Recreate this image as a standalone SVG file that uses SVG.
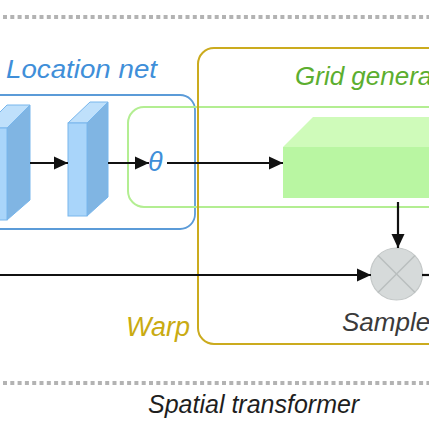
<svg xmlns="http://www.w3.org/2000/svg" width="429" height="429" viewBox="0 0 429 429">
<defs>
<style>
.lbl{font-family:"Liberation Sans",Arial,sans-serif;font-style:italic}
.conn{stroke:#111;stroke-width:2.2;fill:none}
.dots{stroke:#b3b3b3;stroke-width:4;stroke-dasharray:4 3.3;fill:none}
.front{fill:#a9d5fa;stroke:#78b6ec;stroke-width:1}
.side{fill:#80b5e3;stroke:#78b6ec;stroke-width:1}
.top{fill:#bfe0fb;stroke:#78b6ec;stroke-width:1}
</style>
<marker id="ah" viewBox="0 0 14 14" refX="14" refY="7" markerWidth="14" markerHeight="14" markerUnits="userSpaceOnUse" orient="auto">
<path d="M0,0.5 L14,7 L0,13.5 Z" fill="#111"/>
</marker>
</defs>
<rect width="429" height="429" fill="#fff"/>
<line class="dots" x1="3" y1="17" x2="429" y2="17"/>
<line class="dots" x1="3" y1="383" x2="429" y2="383"/>

<g id="location-net">
<rect x="-20" y="95" width="215" height="134" rx="15" fill="none" stroke="#5b9bd8" stroke-width="1.8"/>
<text class="lbl" x="6" y="78" font-size="26" fill="#3f8fd9" textLength="151" lengthAdjust="spacingAndGlyphs">Location net</text>
</g>

<g id="block1">
<polygon class="top" points="-16,128 7,105 30,105 7,128"/>
<polygon class="side" points="7,128 30,105 30,200 7,220"/>
<rect class="front" x="-10" y="128" width="17" height="92"/>
</g>
<g id="block2">
<polygon class="top" points="68,123 90,102 108,102 87,123"/>
<polygon class="side" points="87,123 108,102 108,197 87,216"/>
<rect class="front" x="68" y="123" width="19" height="93"/>
</g>

<g id="grid-generator">
<rect x="128" y="107" width="330" height="100" rx="16" fill="none" stroke="#b3ee92" stroke-width="2"/>
<polygon points="283,147 313,117 429,117 429,147" fill="#cffbba"/>
<rect x="283" y="147" width="146" height="51" fill="#b9f6a2"/>
<text class="lbl" x="295" y="85" font-size="26" fill="#5cae2f">Grid generator</text>
</g>

<g id="warp">
<rect x="198" y="48" width="260" height="296" rx="16" fill="none" stroke="#cbab1e" stroke-width="2"/>
<text class="lbl" x="126" y="336" font-size="27" fill="#c9ab12">Warp</text>
</g>

<g id="theta">
<text class="lbl" x="148" y="171" font-size="27" fill="#3f8fd9">θ</text>
</g>

<g id="sampler">
<circle cx="396.5" cy="274" r="26" fill="#d6dada" stroke="#c4c8c8" stroke-width="1.2"/>
<line x1="378" y1="255.5" x2="415" y2="292.5" stroke="#b9bebe" stroke-width="1.5"/>
<line x1="415" y1="255.5" x2="378" y2="292.5" stroke="#b9bebe" stroke-width="1.5"/>
<text class="lbl" x="342" y="331" font-size="26" fill="#3a3a3a">Sampler</text>
</g>

<g id="connectors">
<line class="conn" x1="30" y1="163" x2="68" y2="163" marker-end="url(#ah)"/>
<line class="conn" x1="108" y1="163" x2="149" y2="163" marker-end="url(#ah)"/>
<line class="conn" x1="167" y1="163" x2="283" y2="163" marker-end="url(#ah)"/>
<line class="conn" x1="398" y1="202" x2="398" y2="248" marker-end="url(#ah)"/>
<line class="conn" x1="0" y1="275" x2="371" y2="275" marker-end="url(#ah)"/>
<line class="conn" x1="422" y1="275" x2="429" y2="275"/>
</g>

<g id="caption">
<text class="lbl" x="148" y="413" font-size="25" fill="#1e1e1e">Spatial transformer</text>
</g>
</svg>
